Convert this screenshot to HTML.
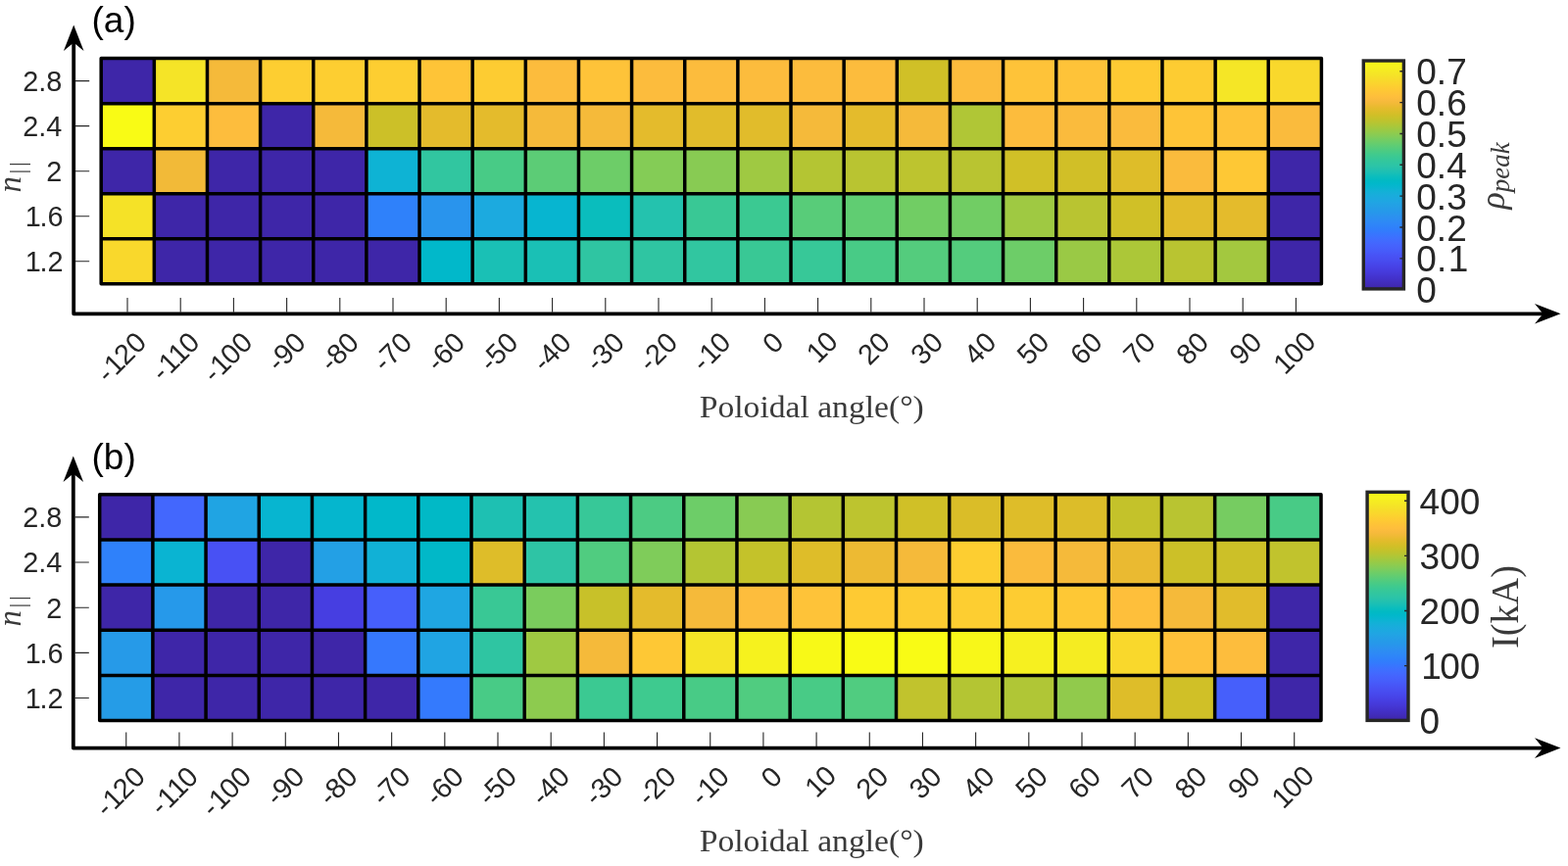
<!DOCTYPE html>
<html lang="en">
<head>
<meta charset="utf-8">
<style>
html,body{margin:0;padding:0;background:#fff;}
body{width:1600px;height:884px;overflow:hidden;}
svg{display:block;}
</style>
</head>
<body>
<svg width="1600" height="884" viewBox="0 0 1600 884">
<rect width="1600" height="884" fill="#fff"/>
<g id="panel-a">
<g shape-rendering="geometricPrecision">
<rect x="103.20" y="59.60" width="54.44" height="46.34" fill="#3e26a8"/>
<rect x="157.34" y="59.60" width="54.44" height="46.34" fill="#f5e427"/>
<rect x="211.48" y="59.60" width="54.44" height="46.34" fill="#f5ba3a"/>
<rect x="265.62" y="59.60" width="54.44" height="46.34" fill="#fdce31"/>
<rect x="319.76" y="59.60" width="54.44" height="46.34" fill="#fdce31"/>
<rect x="373.90" y="59.60" width="54.44" height="46.34" fill="#fdce31"/>
<rect x="428.03" y="59.60" width="54.44" height="46.34" fill="#fec437"/>
<rect x="482.17" y="59.60" width="54.44" height="46.34" fill="#fdcc32"/>
<rect x="536.31" y="59.60" width="54.44" height="46.34" fill="#fcbc3d"/>
<rect x="590.45" y="59.60" width="54.44" height="46.34" fill="#fec339"/>
<rect x="644.59" y="59.60" width="54.44" height="46.34" fill="#fcbc3d"/>
<rect x="698.73" y="59.60" width="54.44" height="46.34" fill="#fcbc3d"/>
<rect x="752.87" y="59.60" width="54.44" height="46.34" fill="#fcbc3d"/>
<rect x="807.01" y="59.60" width="54.44" height="46.34" fill="#fcbc3d"/>
<rect x="861.15" y="59.60" width="54.44" height="46.34" fill="#fcbc3d"/>
<rect x="915.29" y="59.60" width="54.44" height="46.34" fill="#d0c027"/>
<rect x="969.43" y="59.60" width="54.44" height="46.34" fill="#fcbc3d"/>
<rect x="1023.57" y="59.60" width="54.44" height="46.34" fill="#fec339"/>
<rect x="1077.70" y="59.60" width="54.44" height="46.34" fill="#fec339"/>
<rect x="1131.84" y="59.60" width="54.44" height="46.34" fill="#feca33"/>
<rect x="1185.98" y="59.60" width="54.44" height="46.34" fill="#fdcc32"/>
<rect x="1240.12" y="59.60" width="54.44" height="46.34" fill="#f5e626"/>
<rect x="1294.26" y="59.60" width="54.44" height="46.34" fill="#f9d82c"/>
<rect x="103.20" y="105.64" width="54.44" height="46.34" fill="#f9fb15"/>
<rect x="157.34" y="105.64" width="54.44" height="46.34" fill="#fdce31"/>
<rect x="211.48" y="105.64" width="54.44" height="46.34" fill="#fdbd3d"/>
<rect x="265.62" y="105.64" width="54.44" height="46.34" fill="#3e26a8"/>
<rect x="319.76" y="105.64" width="54.44" height="46.34" fill="#f5ba3a"/>
<rect x="373.90" y="105.64" width="54.44" height="46.34" fill="#ccc028"/>
<rect x="428.03" y="105.64" width="54.44" height="46.34" fill="#e4bb2c"/>
<rect x="482.17" y="105.64" width="54.44" height="46.34" fill="#e4bb2c"/>
<rect x="536.31" y="105.64" width="54.44" height="46.34" fill="#f5ba3a"/>
<rect x="590.45" y="105.64" width="54.44" height="46.34" fill="#f5ba3a"/>
<rect x="644.59" y="105.64" width="54.44" height="46.34" fill="#e4bb2c"/>
<rect x="698.73" y="105.64" width="54.44" height="46.34" fill="#e1bc2b"/>
<rect x="752.87" y="105.64" width="54.44" height="46.34" fill="#e1bc2b"/>
<rect x="807.01" y="105.64" width="54.44" height="46.34" fill="#f5ba3a"/>
<rect x="861.15" y="105.64" width="54.44" height="46.34" fill="#e4bb2c"/>
<rect x="915.29" y="105.64" width="54.44" height="46.34" fill="#f5ba3a"/>
<rect x="969.43" y="105.64" width="54.44" height="46.34" fill="#b0c636"/>
<rect x="1023.57" y="105.64" width="54.44" height="46.34" fill="#fcbc3d"/>
<rect x="1077.70" y="105.64" width="54.44" height="46.34" fill="#fabb3d"/>
<rect x="1131.84" y="105.64" width="54.44" height="46.34" fill="#fabb3d"/>
<rect x="1185.98" y="105.64" width="54.44" height="46.34" fill="#fec437"/>
<rect x="1240.12" y="105.64" width="54.44" height="46.34" fill="#fec339"/>
<rect x="1294.26" y="105.64" width="54.44" height="46.34" fill="#fabb3d"/>
<rect x="103.20" y="151.68" width="54.44" height="46.34" fill="#3e26a8"/>
<rect x="157.34" y="151.68" width="54.44" height="46.34" fill="#f2ba38"/>
<rect x="211.48" y="151.68" width="54.44" height="46.34" fill="#3e26a8"/>
<rect x="265.62" y="151.68" width="54.44" height="46.34" fill="#3e26a8"/>
<rect x="319.76" y="151.68" width="54.44" height="46.34" fill="#3e26a8"/>
<rect x="373.90" y="151.68" width="54.44" height="46.34" fill="#0eb3d4"/>
<rect x="428.03" y="151.68" width="54.44" height="46.34" fill="#31c6a0"/>
<rect x="482.17" y="151.68" width="54.44" height="46.34" fill="#48cb86"/>
<rect x="536.31" y="151.68" width="54.44" height="46.34" fill="#5ccc76"/>
<rect x="590.45" y="151.68" width="54.44" height="46.34" fill="#6dcd68"/>
<rect x="644.59" y="151.68" width="54.44" height="46.34" fill="#84cc56"/>
<rect x="698.73" y="151.68" width="54.44" height="46.34" fill="#88cb53"/>
<rect x="752.87" y="151.68" width="54.44" height="46.34" fill="#9fc942"/>
<rect x="807.01" y="151.68" width="54.44" height="46.34" fill="#b4c533"/>
<rect x="861.15" y="151.68" width="54.44" height="46.34" fill="#b9c431"/>
<rect x="915.29" y="151.68" width="54.44" height="46.34" fill="#bdc42f"/>
<rect x="969.43" y="151.68" width="54.44" height="46.34" fill="#b9c431"/>
<rect x="1023.57" y="151.68" width="54.44" height="46.34" fill="#d0c027"/>
<rect x="1077.70" y="151.68" width="54.44" height="46.34" fill="#d1bf27"/>
<rect x="1131.84" y="151.68" width="54.44" height="46.34" fill="#debd29"/>
<rect x="1185.98" y="151.68" width="54.44" height="46.34" fill="#fabb3d"/>
<rect x="1240.12" y="151.68" width="54.44" height="46.34" fill="#fec835"/>
<rect x="1294.26" y="151.68" width="54.44" height="46.34" fill="#3e26a8"/>
<rect x="103.20" y="197.72" width="54.44" height="46.34" fill="#f5e227"/>
<rect x="157.34" y="197.72" width="54.44" height="46.34" fill="#3e26a8"/>
<rect x="211.48" y="197.72" width="54.44" height="46.34" fill="#3e26a8"/>
<rect x="265.62" y="197.72" width="54.44" height="46.34" fill="#3e26a8"/>
<rect x="319.76" y="197.72" width="54.44" height="46.34" fill="#3e26a8"/>
<rect x="373.90" y="197.72" width="54.44" height="46.34" fill="#2f81fa"/>
<rect x="428.03" y="197.72" width="54.44" height="46.34" fill="#2994ed"/>
<rect x="482.17" y="197.72" width="54.44" height="46.34" fill="#1caadf"/>
<rect x="536.31" y="197.72" width="54.44" height="46.34" fill="#07b5d0"/>
<rect x="590.45" y="197.72" width="54.44" height="46.34" fill="#0abdbd"/>
<rect x="644.59" y="197.72" width="54.44" height="46.34" fill="#24c2ae"/>
<rect x="698.73" y="197.72" width="54.44" height="46.34" fill="#39c895"/>
<rect x="752.87" y="197.72" width="54.44" height="46.34" fill="#3bc992"/>
<rect x="807.01" y="197.72" width="54.44" height="46.34" fill="#58cc79"/>
<rect x="861.15" y="197.72" width="54.44" height="46.34" fill="#60cd72"/>
<rect x="915.29" y="197.72" width="54.44" height="46.34" fill="#71cd64"/>
<rect x="969.43" y="197.72" width="54.44" height="46.34" fill="#71cd64"/>
<rect x="1023.57" y="197.72" width="54.44" height="46.34" fill="#9fc942"/>
<rect x="1077.70" y="197.72" width="54.44" height="46.34" fill="#b9c431"/>
<rect x="1131.84" y="197.72" width="54.44" height="46.34" fill="#d0c027"/>
<rect x="1185.98" y="197.72" width="54.44" height="46.34" fill="#e1bc2b"/>
<rect x="1240.12" y="197.72" width="54.44" height="46.34" fill="#e4bb2c"/>
<rect x="1294.26" y="197.72" width="54.44" height="46.34" fill="#3e26a8"/>
<rect x="103.20" y="243.76" width="54.44" height="46.34" fill="#f9d82c"/>
<rect x="157.34" y="243.76" width="54.44" height="46.34" fill="#3e26a8"/>
<rect x="211.48" y="243.76" width="54.44" height="46.34" fill="#3e26a8"/>
<rect x="265.62" y="243.76" width="54.44" height="46.34" fill="#3e26a8"/>
<rect x="319.76" y="243.76" width="54.44" height="46.34" fill="#3e26a8"/>
<rect x="373.90" y="243.76" width="54.44" height="46.34" fill="#3e26a8"/>
<rect x="428.03" y="243.76" width="54.44" height="46.34" fill="#01b8ca"/>
<rect x="482.17" y="243.76" width="54.44" height="46.34" fill="#1ac0b5"/>
<rect x="536.31" y="243.76" width="54.44" height="46.34" fill="#1ac0b5"/>
<rect x="590.45" y="243.76" width="54.44" height="46.34" fill="#2fc5a2"/>
<rect x="644.59" y="243.76" width="54.44" height="46.34" fill="#2fc5a2"/>
<rect x="698.73" y="243.76" width="54.44" height="46.34" fill="#31c6a0"/>
<rect x="752.87" y="243.76" width="54.44" height="46.34" fill="#39c895"/>
<rect x="807.01" y="243.76" width="54.44" height="46.34" fill="#37c898"/>
<rect x="861.15" y="243.76" width="54.44" height="46.34" fill="#48cb86"/>
<rect x="915.29" y="243.76" width="54.44" height="46.34" fill="#54cc7d"/>
<rect x="969.43" y="243.76" width="54.44" height="46.34" fill="#54cc7d"/>
<rect x="1023.57" y="243.76" width="54.44" height="46.34" fill="#6dcd68"/>
<rect x="1077.70" y="243.76" width="54.44" height="46.34" fill="#9ac945"/>
<rect x="1131.84" y="243.76" width="54.44" height="46.34" fill="#acc738"/>
<rect x="1185.98" y="243.76" width="54.44" height="46.34" fill="#b9c431"/>
<rect x="1240.12" y="243.76" width="54.44" height="46.34" fill="#a3c83f"/>
<rect x="1294.26" y="243.76" width="54.44" height="46.34" fill="#3e26a8"/>
</g>
<path d="M157.34 59.60V289.80M211.48 59.60V289.80M265.62 59.60V289.80M319.76 59.60V289.80M373.90 59.60V289.80M428.03 59.60V289.80M482.17 59.60V289.80M536.31 59.60V289.80M590.45 59.60V289.80M644.59 59.60V289.80M698.73 59.60V289.80M752.87 59.60V289.80M807.01 59.60V289.80M861.15 59.60V289.80M915.29 59.60V289.80M969.43 59.60V289.80M1023.57 59.60V289.80M1077.70 59.60V289.80M1131.84 59.60V289.80M1185.98 59.60V289.80M1240.12 59.60V289.80M1294.26 59.60V289.80M103.20 105.64H1348.40M103.20 151.68H1348.40M103.20 197.72H1348.40M103.20 243.76H1348.40" fill="none" stroke="#000" stroke-width="3.50"/>
<rect x="103.20" y="59.60" width="1245.20" height="230.20" fill="none" stroke="#000" stroke-width="3.50" stroke-linejoin="round"/>
<path d="M75.20 37.60V320.30H1580.50" fill="none" stroke="#000" stroke-width="3.8" stroke-linejoin="round"/>
<path d="M75.20 25.60 L85.50 52.10 L75.20 43.60 L64.90 52.10 Z" fill="#000"/>
<path d="M1592.50 320.30 L1566.00 310.00 L1574.50 320.30 L1566.00 330.60 Z" fill="#000"/>
<path d="M76.70 82.62H91.20M76.70 128.66H91.20M76.70 174.70H91.20M76.70 220.74H91.20M76.70 266.78H91.20M130.00 304.00V318.80M184.20 304.00V318.80M238.40 304.00V318.80M292.60 304.00V318.80M346.80 304.00V318.80M401.00 304.00V318.80M455.20 304.00V318.80M509.40 304.00V318.80M563.60 304.00V318.80M617.80 304.00V318.80M672.00 304.00V318.80M726.20 304.00V318.80M780.40 304.00V318.80M834.60 304.00V318.80M888.80 304.00V318.80M943.00 304.00V318.80M997.20 304.00V318.80M1051.40 304.00V318.80M1105.60 304.00V318.80M1159.80 304.00V318.80M1214.00 304.00V318.80M1268.20 304.00V318.80M1322.40 304.00V318.80" fill="none" stroke="#262626" stroke-width="1.1"/>
<g font-family='"Liberation Sans", sans-serif' font-size="28.8" fill="#262626" text-anchor="end">
<text x="63.3" y="93.02">2.8</text>
<text x="63.3" y="139.06">2.4</text>
<text x="63.3" y="185.10">2</text>
<text x="63.3" y="231.14" dx="1.3 -1.3 0">1.6</text>
<text x="63.3" y="277.18" dx="1.3 -1.3 0">1.2</text>
</g>
<g font-family='"Liberation Sans", sans-serif' font-size="28.8" fill="#262626" text-anchor="end">
<text transform="translate(151.00 351.30) rotate(-45)" dx="0 1.3 -1.3 0">-120</text>
<text transform="translate(205.20 351.30) rotate(-45)" dx="0 1.3 0 -1.3">-110</text>
<text transform="translate(259.40 351.30) rotate(-45)" dx="0 1.3 -1.3 0">-100</text>
<text transform="translate(313.60 351.30) rotate(-45)">-90</text>
<text transform="translate(367.80 351.30) rotate(-45)">-80</text>
<text transform="translate(422.00 351.30) rotate(-45)">-70</text>
<text transform="translate(476.20 351.30) rotate(-45)">-60</text>
<text transform="translate(530.40 351.30) rotate(-45)">-50</text>
<text transform="translate(584.60 351.30) rotate(-45)">-40</text>
<text transform="translate(638.80 351.30) rotate(-45)">-30</text>
<text transform="translate(693.00 351.30) rotate(-45)">-20</text>
<text transform="translate(747.20 351.30) rotate(-45)" dx="0 1.3 -1.3">-10</text>
<text transform="translate(801.40 351.30) rotate(-45)">0</text>
<text transform="translate(855.60 351.30) rotate(-45)" dx="1.3 -1.3">10</text>
<text transform="translate(909.80 351.30) rotate(-45)">20</text>
<text transform="translate(964.00 351.30) rotate(-45)">30</text>
<text transform="translate(1018.20 351.30) rotate(-45)">40</text>
<text transform="translate(1072.40 351.30) rotate(-45)">50</text>
<text transform="translate(1126.60 351.30) rotate(-45)">60</text>
<text transform="translate(1180.80 351.30) rotate(-45)">70</text>
<text transform="translate(1235.00 351.30) rotate(-45)">80</text>
<text transform="translate(1289.20 351.30) rotate(-45)">90</text>
<text transform="translate(1343.40 351.30) rotate(-45)" dx="1.3 -1.3 0">100</text>
</g>
<text x="828.3" y="426.40" font-family='"Liberation Serif", serif' font-size="30.8" fill="#3a3a3a" text-anchor="middle" textLength="229" lengthAdjust="spacingAndGlyphs">Poloidal angle(°)</text>
<text transform="translate(20.5 196.50) rotate(-90)" font-family='"Liberation Serif", serif' font-size="33" font-style="italic" fill="#3a3a3a" text-anchor="start">n<tspan font-size="24" font-style="normal" dy="5.8" dx="2.6" letter-spacing="2.5">||</tspan></text>
<text x="93.50" y="32.60" font-family='"Liberation Sans", sans-serif' font-size="37" fill="#000">(a)</text>
<defs><linearGradient id="ga" x1="0" y1="0" x2="0" y2="1"><stop offset="0.0000" stop-color="#f9fb15"/><stop offset="0.0159" stop-color="#f7f51b"/><stop offset="0.0317" stop-color="#f6ef20"/><stop offset="0.0476" stop-color="#f5e924"/><stop offset="0.0635" stop-color="#f5e327"/><stop offset="0.0794" stop-color="#f7dc2a"/><stop offset="0.0952" stop-color="#fad62d"/><stop offset="0.1111" stop-color="#fccf30"/><stop offset="0.1270" stop-color="#fec934"/><stop offset="0.1429" stop-color="#fec338"/><stop offset="0.1587" stop-color="#febe3c"/><stop offset="0.1746" stop-color="#f8ba3d"/><stop offset="0.1905" stop-color="#f0ba36"/><stop offset="0.2063" stop-color="#e6bb2d"/><stop offset="0.2222" stop-color="#dcbd29"/><stop offset="0.2381" stop-color="#d1bf27"/><stop offset="0.2540" stop-color="#c5c22a"/><stop offset="0.2698" stop-color="#b9c431"/><stop offset="0.2857" stop-color="#abc739"/><stop offset="0.3016" stop-color="#9dc943"/><stop offset="0.3175" stop-color="#8fcb4e"/><stop offset="0.3333" stop-color="#81cc59"/><stop offset="0.3492" stop-color="#72cd64"/><stop offset="0.3651" stop-color="#64cd6f"/><stop offset="0.3810" stop-color="#57cc7a"/><stop offset="0.3968" stop-color="#4acb84"/><stop offset="0.4127" stop-color="#3fca8e"/><stop offset="0.4286" stop-color="#37c897"/><stop offset="0.4444" stop-color="#31c69f"/><stop offset="0.4603" stop-color="#2cc4a7"/><stop offset="0.4762" stop-color="#24c1ae"/><stop offset="0.4921" stop-color="#19bfb6"/><stop offset="0.5079" stop-color="#0bbdbd"/><stop offset="0.5238" stop-color="#02bac3"/><stop offset="0.5397" stop-color="#01b8ca"/><stop offset="0.5556" stop-color="#08b5d0"/><stop offset="0.5714" stop-color="#12b1d6"/><stop offset="0.5873" stop-color="#18addb"/><stop offset="0.6032" stop-color="#1ca9df"/><stop offset="0.6190" stop-color="#20a5e3"/><stop offset="0.6349" stop-color="#23a0e5"/><stop offset="0.6508" stop-color="#259be8"/><stop offset="0.6667" stop-color="#2797eb"/><stop offset="0.6825" stop-color="#2b91ef"/><stop offset="0.6984" stop-color="#2d8cf3"/><stop offset="0.7143" stop-color="#2e87f7"/><stop offset="0.7302" stop-color="#2f81fa"/><stop offset="0.7460" stop-color="#327cfc"/><stop offset="0.7619" stop-color="#3875fe"/><stop offset="0.7778" stop-color="#3e6fff"/><stop offset="0.7937" stop-color="#4269fe"/><stop offset="0.8095" stop-color="#4563fd"/><stop offset="0.8254" stop-color="#465efb"/><stop offset="0.8413" stop-color="#4758f8"/><stop offset="0.8571" stop-color="#4852f4"/><stop offset="0.8730" stop-color="#484df0"/><stop offset="0.8889" stop-color="#4747eb"/><stop offset="0.9048" stop-color="#4741e5"/><stop offset="0.9206" stop-color="#463cde"/><stop offset="0.9365" stop-color="#4537d5"/><stop offset="0.9524" stop-color="#4332cb"/><stop offset="0.9683" stop-color="#422ec0"/><stop offset="0.9841" stop-color="#402ab4"/><stop offset="1.0000" stop-color="#3e26a8"/></linearGradient></defs>
<rect x="1391.30" y="62.00" width="41.10" height="232.90" fill="url(#ga)" stroke="#262626" stroke-width="3.40"/>
<g font-family='"Liberation Sans", sans-serif' font-size="37.0" fill="#262626">
<text x="1445.30" y="86.35">0.7</text>
<text x="1445.30" y="118.20">0.6</text>
<text x="1445.30" y="150.05">0.5</text>
<text x="1445.30" y="181.90">0.4</text>
<text x="1445.30" y="213.75">0.3</text>
<text x="1445.30" y="245.60">0.2</text>
<text x="1445.30" y="277.45" dx="0 0 1.6">0.1</text>
<text x="1445.30" y="309.30">0</text>
</g>
<path d="M1428.40 72.75H1431.40M1428.40 104.60H1431.40M1428.40 136.45H1431.40M1428.40 168.30H1431.40M1428.40 200.15H1431.40M1428.40 232.00H1431.40M1428.40 263.85H1431.40" fill="none" stroke="#262626" stroke-width="1.4"/>
<text transform="translate(1535 213.5) rotate(-90)" font-family='"Liberation Serif", serif' font-size="36" font-style="italic" fill="#3a3a3a">ρ<tspan font-size="27" dy="5.2" dx="0">peak</tspan></text>
</g>
<g id="panel-b">
<g shape-rendering="geometricPrecision">
<rect x="101.70" y="504.80" width="54.49" height="46.46" fill="#3e26a8"/>
<rect x="155.89" y="504.80" width="54.49" height="46.46" fill="#4367fd"/>
<rect x="210.07" y="504.80" width="54.49" height="46.46" fill="#20a4e3"/>
<rect x="264.26" y="504.80" width="54.49" height="46.46" fill="#07b5d0"/>
<rect x="318.45" y="504.80" width="54.49" height="46.46" fill="#05b6ce"/>
<rect x="372.63" y="504.80" width="54.49" height="46.46" fill="#01b8ca"/>
<rect x="426.82" y="504.80" width="54.49" height="46.46" fill="#01b9c6"/>
<rect x="481.01" y="504.80" width="54.49" height="46.46" fill="#1ec0b2"/>
<rect x="535.20" y="504.80" width="54.49" height="46.46" fill="#24c2ae"/>
<rect x="589.38" y="504.80" width="54.49" height="46.46" fill="#37c898"/>
<rect x="643.57" y="504.80" width="54.49" height="46.46" fill="#4ccb83"/>
<rect x="697.76" y="504.80" width="54.49" height="46.46" fill="#6dcd68"/>
<rect x="751.94" y="504.80" width="54.49" height="46.46" fill="#88cb53"/>
<rect x="806.13" y="504.80" width="54.49" height="46.46" fill="#b4c533"/>
<rect x="860.32" y="504.80" width="54.49" height="46.46" fill="#bdc42f"/>
<rect x="914.50" y="504.80" width="54.49" height="46.46" fill="#d0c027"/>
<rect x="968.69" y="504.80" width="54.49" height="46.46" fill="#dabd28"/>
<rect x="1022.88" y="504.80" width="54.49" height="46.46" fill="#debd29"/>
<rect x="1077.07" y="504.80" width="54.49" height="46.46" fill="#dcbd29"/>
<rect x="1131.25" y="504.80" width="54.49" height="46.46" fill="#c4c22a"/>
<rect x="1185.44" y="504.80" width="54.49" height="46.46" fill="#b9c431"/>
<rect x="1239.63" y="504.80" width="54.49" height="46.46" fill="#76cc61"/>
<rect x="1293.81" y="504.80" width="54.49" height="46.46" fill="#48cb86"/>
<rect x="101.70" y="550.96" width="54.49" height="46.46" fill="#2f81fa"/>
<rect x="155.89" y="550.96" width="54.49" height="46.46" fill="#0ab4d2"/>
<rect x="210.07" y="550.96" width="54.49" height="46.46" fill="#4851f4"/>
<rect x="264.26" y="550.96" width="54.49" height="46.46" fill="#3e26a8"/>
<rect x="318.45" y="550.96" width="54.49" height="46.46" fill="#23a0e5"/>
<rect x="372.63" y="550.96" width="54.49" height="46.46" fill="#11b1d6"/>
<rect x="426.82" y="550.96" width="54.49" height="46.46" fill="#01b8c8"/>
<rect x="481.01" y="550.96" width="54.49" height="46.46" fill="#debd29"/>
<rect x="535.20" y="550.96" width="54.49" height="46.46" fill="#2ec4a5"/>
<rect x="589.38" y="550.96" width="54.49" height="46.46" fill="#50cc80"/>
<rect x="643.57" y="550.96" width="54.49" height="46.46" fill="#7fcc5a"/>
<rect x="697.76" y="550.96" width="54.49" height="46.46" fill="#b4c533"/>
<rect x="751.94" y="550.96" width="54.49" height="46.46" fill="#c4c22a"/>
<rect x="806.13" y="550.96" width="54.49" height="46.46" fill="#debd29"/>
<rect x="860.32" y="550.96" width="54.49" height="46.46" fill="#edba33"/>
<rect x="914.50" y="550.96" width="54.49" height="46.46" fill="#f5ba3a"/>
<rect x="968.69" y="550.96" width="54.49" height="46.46" fill="#fdce31"/>
<rect x="1022.88" y="550.96" width="54.49" height="46.46" fill="#fabb3d"/>
<rect x="1077.07" y="550.96" width="54.49" height="46.46" fill="#f5ba3a"/>
<rect x="1131.25" y="550.96" width="54.49" height="46.46" fill="#eaba31"/>
<rect x="1185.44" y="550.96" width="54.49" height="46.46" fill="#ccc028"/>
<rect x="1239.63" y="550.96" width="54.49" height="46.46" fill="#ccc028"/>
<rect x="1293.81" y="550.96" width="54.49" height="46.46" fill="#c1c32d"/>
<rect x="101.70" y="597.12" width="54.49" height="46.46" fill="#3e26a8"/>
<rect x="155.89" y="597.12" width="54.49" height="46.46" fill="#2699ea"/>
<rect x="210.07" y="597.12" width="54.49" height="46.46" fill="#3e26a8"/>
<rect x="264.26" y="597.12" width="54.49" height="46.46" fill="#3e26a8"/>
<rect x="318.45" y="597.12" width="54.49" height="46.46" fill="#463ee1"/>
<rect x="372.63" y="597.12" width="54.49" height="46.46" fill="#465ffb"/>
<rect x="426.82" y="597.12" width="54.49" height="46.46" fill="#1fa6e2"/>
<rect x="481.01" y="597.12" width="54.49" height="46.46" fill="#39c895"/>
<rect x="535.20" y="597.12" width="54.49" height="46.46" fill="#7acc5d"/>
<rect x="589.38" y="597.12" width="54.49" height="46.46" fill="#c8c129"/>
<rect x="643.57" y="597.12" width="54.49" height="46.46" fill="#e4bb2c"/>
<rect x="697.76" y="597.12" width="54.49" height="46.46" fill="#f5ba3a"/>
<rect x="751.94" y="597.12" width="54.49" height="46.46" fill="#fdbd3d"/>
<rect x="806.13" y="597.12" width="54.49" height="46.46" fill="#fec339"/>
<rect x="860.32" y="597.12" width="54.49" height="46.46" fill="#feca33"/>
<rect x="914.50" y="597.12" width="54.49" height="46.46" fill="#fdcc32"/>
<rect x="968.69" y="597.12" width="54.49" height="46.46" fill="#fdce31"/>
<rect x="1022.88" y="597.12" width="54.49" height="46.46" fill="#fdcc32"/>
<rect x="1077.07" y="597.12" width="54.49" height="46.46" fill="#fec835"/>
<rect x="1131.25" y="597.12" width="54.49" height="46.46" fill="#febf3b"/>
<rect x="1185.44" y="597.12" width="54.49" height="46.46" fill="#f5ba3a"/>
<rect x="1239.63" y="597.12" width="54.49" height="46.46" fill="#e1bc2b"/>
<rect x="1293.81" y="597.12" width="54.49" height="46.46" fill="#3e26a8"/>
<rect x="101.70" y="643.28" width="54.49" height="46.46" fill="#269ae8"/>
<rect x="155.89" y="643.28" width="54.49" height="46.46" fill="#3e26a8"/>
<rect x="210.07" y="643.28" width="54.49" height="46.46" fill="#3e26a8"/>
<rect x="264.26" y="643.28" width="54.49" height="46.46" fill="#3e26a8"/>
<rect x="318.45" y="643.28" width="54.49" height="46.46" fill="#3e26a8"/>
<rect x="372.63" y="643.28" width="54.49" height="46.46" fill="#3678fd"/>
<rect x="426.82" y="643.28" width="54.49" height="46.46" fill="#20a4e3"/>
<rect x="481.01" y="643.28" width="54.49" height="46.46" fill="#2fc5a2"/>
<rect x="535.20" y="643.28" width="54.49" height="46.46" fill="#9fc942"/>
<rect x="589.38" y="643.28" width="54.49" height="46.46" fill="#f5ba3a"/>
<rect x="643.57" y="643.28" width="54.49" height="46.46" fill="#fec835"/>
<rect x="697.76" y="643.28" width="54.49" height="46.46" fill="#f5e427"/>
<rect x="751.94" y="643.28" width="54.49" height="46.46" fill="#f6f21e"/>
<rect x="806.13" y="643.28" width="54.49" height="46.46" fill="#f8f917"/>
<rect x="860.32" y="643.28" width="54.49" height="46.46" fill="#f9fb15"/>
<rect x="914.50" y="643.28" width="54.49" height="46.46" fill="#f9fb15"/>
<rect x="968.69" y="643.28" width="54.49" height="46.46" fill="#f8f719"/>
<rect x="1022.88" y="643.28" width="54.49" height="46.46" fill="#f6f020"/>
<rect x="1077.07" y="643.28" width="54.49" height="46.46" fill="#f5ec22"/>
<rect x="1131.25" y="643.28" width="54.49" height="46.46" fill="#f9d82c"/>
<rect x="1185.44" y="643.28" width="54.49" height="46.46" fill="#fec13a"/>
<rect x="1239.63" y="643.28" width="54.49" height="46.46" fill="#fdbd3d"/>
<rect x="1293.81" y="643.28" width="54.49" height="46.46" fill="#3e26a8"/>
<rect x="101.70" y="689.44" width="54.49" height="46.46" fill="#259ce7"/>
<rect x="155.89" y="689.44" width="54.49" height="46.46" fill="#3e26a8"/>
<rect x="210.07" y="689.44" width="54.49" height="46.46" fill="#3e26a8"/>
<rect x="264.26" y="689.44" width="54.49" height="46.46" fill="#3e26a8"/>
<rect x="318.45" y="689.44" width="54.49" height="46.46" fill="#3e26a8"/>
<rect x="372.63" y="689.44" width="54.49" height="46.46" fill="#3e26a8"/>
<rect x="426.82" y="689.44" width="54.49" height="46.46" fill="#347afd"/>
<rect x="481.01" y="689.44" width="54.49" height="46.46" fill="#48cb86"/>
<rect x="535.20" y="689.44" width="54.49" height="46.46" fill="#8dcb4f"/>
<rect x="589.38" y="689.44" width="54.49" height="46.46" fill="#3bc992"/>
<rect x="643.57" y="689.44" width="54.49" height="46.46" fill="#3eca8f"/>
<rect x="697.76" y="689.44" width="54.49" height="46.46" fill="#48cb86"/>
<rect x="751.94" y="689.44" width="54.49" height="46.46" fill="#50cc80"/>
<rect x="806.13" y="689.44" width="54.49" height="46.46" fill="#48cb86"/>
<rect x="860.32" y="689.44" width="54.49" height="46.46" fill="#50cc80"/>
<rect x="914.50" y="689.44" width="54.49" height="46.46" fill="#c1c32d"/>
<rect x="968.69" y="689.44" width="54.49" height="46.46" fill="#b4c533"/>
<rect x="1022.88" y="689.44" width="54.49" height="46.46" fill="#b0c636"/>
<rect x="1077.07" y="689.44" width="54.49" height="46.46" fill="#91ca4c"/>
<rect x="1131.25" y="689.44" width="54.49" height="46.46" fill="#debd29"/>
<rect x="1185.44" y="689.44" width="54.49" height="46.46" fill="#d0c027"/>
<rect x="1239.63" y="689.44" width="54.49" height="46.46" fill="#465ffb"/>
<rect x="1293.81" y="689.44" width="54.49" height="46.46" fill="#3e26a8"/>
</g>
<path d="M155.89 504.80V735.60M210.07 504.80V735.60M264.26 504.80V735.60M318.45 504.80V735.60M372.63 504.80V735.60M426.82 504.80V735.60M481.01 504.80V735.60M535.20 504.80V735.60M589.38 504.80V735.60M643.57 504.80V735.60M697.76 504.80V735.60M751.94 504.80V735.60M806.13 504.80V735.60M860.32 504.80V735.60M914.50 504.80V735.60M968.69 504.80V735.60M1022.88 504.80V735.60M1077.07 504.80V735.60M1131.25 504.80V735.60M1185.44 504.80V735.60M1239.63 504.80V735.60M1293.81 504.80V735.60M101.70 550.96H1348.00M101.70 597.12H1348.00M101.70 643.28H1348.00M101.70 689.44H1348.00" fill="none" stroke="#000" stroke-width="3.50"/>
<rect x="101.70" y="504.80" width="1246.30" height="230.80" fill="none" stroke="#000" stroke-width="3.50" stroke-linejoin="round"/>
<path d="M74.80 477.60V763.60H1580.50" fill="none" stroke="#000" stroke-width="3.8" stroke-linejoin="round"/>
<path d="M74.80 465.60 L85.10 492.10 L74.80 483.60 L64.50 492.10 Z" fill="#000"/>
<path d="M1592.50 763.60 L1566.00 753.30 L1574.50 763.60 L1566.00 773.90 Z" fill="#000"/>
<path d="M76.30 527.88H90.80M76.30 574.04H90.80M76.30 620.20H90.80M76.30 666.36H90.80M76.30 712.52H90.80M128.75 747.50V762.10M182.93 747.50V762.10M237.11 747.50V762.10M291.29 747.50V762.10M345.47 747.50V762.10M399.65 747.50V762.10M453.83 747.50V762.10M508.01 747.50V762.10M562.19 747.50V762.10M616.37 747.50V762.10M670.55 747.50V762.10M724.73 747.50V762.10M778.91 747.50V762.10M833.09 747.50V762.10M887.27 747.50V762.10M941.45 747.50V762.10M995.63 747.50V762.10M1049.81 747.50V762.10M1103.99 747.50V762.10M1158.17 747.50V762.10M1212.35 747.50V762.10M1266.53 747.50V762.10M1320.71 747.50V762.10" fill="none" stroke="#262626" stroke-width="1.1"/>
<g font-family='"Liberation Sans", sans-serif' font-size="28.8" fill="#262626" text-anchor="end">
<text x="63.3" y="538.28">2.8</text>
<text x="63.3" y="584.44">2.4</text>
<text x="63.3" y="630.60">2</text>
<text x="63.3" y="676.76" dx="1.3 -1.3 0">1.6</text>
<text x="63.3" y="722.92" dx="1.3 -1.3 0">1.2</text>
</g>
<g font-family='"Liberation Sans", sans-serif' font-size="28.8" fill="#262626" text-anchor="end">
<text transform="translate(149.75 794.60) rotate(-45)" dx="0 1.3 -1.3 0">-120</text>
<text transform="translate(203.93 794.60) rotate(-45)" dx="0 1.3 0 -1.3">-110</text>
<text transform="translate(258.11 794.60) rotate(-45)" dx="0 1.3 -1.3 0">-100</text>
<text transform="translate(312.29 794.60) rotate(-45)">-90</text>
<text transform="translate(366.47 794.60) rotate(-45)">-80</text>
<text transform="translate(420.65 794.60) rotate(-45)">-70</text>
<text transform="translate(474.83 794.60) rotate(-45)">-60</text>
<text transform="translate(529.01 794.60) rotate(-45)">-50</text>
<text transform="translate(583.19 794.60) rotate(-45)">-40</text>
<text transform="translate(637.37 794.60) rotate(-45)">-30</text>
<text transform="translate(691.55 794.60) rotate(-45)">-20</text>
<text transform="translate(745.73 794.60) rotate(-45)" dx="0 1.3 -1.3">-10</text>
<text transform="translate(799.91 794.60) rotate(-45)">0</text>
<text transform="translate(854.09 794.60) rotate(-45)" dx="1.3 -1.3">10</text>
<text transform="translate(908.27 794.60) rotate(-45)">20</text>
<text transform="translate(962.45 794.60) rotate(-45)">30</text>
<text transform="translate(1016.63 794.60) rotate(-45)">40</text>
<text transform="translate(1070.81 794.60) rotate(-45)">50</text>
<text transform="translate(1124.99 794.60) rotate(-45)">60</text>
<text transform="translate(1179.17 794.60) rotate(-45)">70</text>
<text transform="translate(1233.35 794.60) rotate(-45)">80</text>
<text transform="translate(1287.53 794.60) rotate(-45)">90</text>
<text transform="translate(1341.71 794.60) rotate(-45)" dx="1.3 -1.3 0">100</text>
</g>
<text x="828.3" y="869.40" font-family='"Liberation Serif", serif' font-size="30.8" fill="#3a3a3a" text-anchor="middle" textLength="229" lengthAdjust="spacingAndGlyphs">Poloidal angle(°)</text>
<text transform="translate(20.5 639.50) rotate(-90)" font-family='"Liberation Serif", serif' font-size="33" font-style="italic" fill="#3a3a3a" text-anchor="start">n<tspan font-size="24" font-style="normal" dy="5.8" dx="2.6" letter-spacing="2.5">||</tspan></text>
<text x="93.50" y="478.80" font-family='"Liberation Sans", sans-serif' font-size="37" fill="#000">(b)</text>
<defs><linearGradient id="gb" x1="0" y1="0" x2="0" y2="1"><stop offset="0.0000" stop-color="#f9fb15"/><stop offset="0.0159" stop-color="#f7f51b"/><stop offset="0.0317" stop-color="#f6ef20"/><stop offset="0.0476" stop-color="#f5e924"/><stop offset="0.0635" stop-color="#f5e327"/><stop offset="0.0794" stop-color="#f7dc2a"/><stop offset="0.0952" stop-color="#fad62d"/><stop offset="0.1111" stop-color="#fccf30"/><stop offset="0.1270" stop-color="#fec934"/><stop offset="0.1429" stop-color="#fec338"/><stop offset="0.1587" stop-color="#febe3c"/><stop offset="0.1746" stop-color="#f8ba3d"/><stop offset="0.1905" stop-color="#f0ba36"/><stop offset="0.2063" stop-color="#e6bb2d"/><stop offset="0.2222" stop-color="#dcbd29"/><stop offset="0.2381" stop-color="#d1bf27"/><stop offset="0.2540" stop-color="#c5c22a"/><stop offset="0.2698" stop-color="#b9c431"/><stop offset="0.2857" stop-color="#abc739"/><stop offset="0.3016" stop-color="#9dc943"/><stop offset="0.3175" stop-color="#8fcb4e"/><stop offset="0.3333" stop-color="#81cc59"/><stop offset="0.3492" stop-color="#72cd64"/><stop offset="0.3651" stop-color="#64cd6f"/><stop offset="0.3810" stop-color="#57cc7a"/><stop offset="0.3968" stop-color="#4acb84"/><stop offset="0.4127" stop-color="#3fca8e"/><stop offset="0.4286" stop-color="#37c897"/><stop offset="0.4444" stop-color="#31c69f"/><stop offset="0.4603" stop-color="#2cc4a7"/><stop offset="0.4762" stop-color="#24c1ae"/><stop offset="0.4921" stop-color="#19bfb6"/><stop offset="0.5079" stop-color="#0bbdbd"/><stop offset="0.5238" stop-color="#02bac3"/><stop offset="0.5397" stop-color="#01b8ca"/><stop offset="0.5556" stop-color="#08b5d0"/><stop offset="0.5714" stop-color="#12b1d6"/><stop offset="0.5873" stop-color="#18addb"/><stop offset="0.6032" stop-color="#1ca9df"/><stop offset="0.6190" stop-color="#20a5e3"/><stop offset="0.6349" stop-color="#23a0e5"/><stop offset="0.6508" stop-color="#259be8"/><stop offset="0.6667" stop-color="#2797eb"/><stop offset="0.6825" stop-color="#2b91ef"/><stop offset="0.6984" stop-color="#2d8cf3"/><stop offset="0.7143" stop-color="#2e87f7"/><stop offset="0.7302" stop-color="#2f81fa"/><stop offset="0.7460" stop-color="#327cfc"/><stop offset="0.7619" stop-color="#3875fe"/><stop offset="0.7778" stop-color="#3e6fff"/><stop offset="0.7937" stop-color="#4269fe"/><stop offset="0.8095" stop-color="#4563fd"/><stop offset="0.8254" stop-color="#465efb"/><stop offset="0.8413" stop-color="#4758f8"/><stop offset="0.8571" stop-color="#4852f4"/><stop offset="0.8730" stop-color="#484df0"/><stop offset="0.8889" stop-color="#4747eb"/><stop offset="0.9048" stop-color="#4741e5"/><stop offset="0.9206" stop-color="#463cde"/><stop offset="0.9365" stop-color="#4537d5"/><stop offset="0.9524" stop-color="#4332cb"/><stop offset="0.9683" stop-color="#422ec0"/><stop offset="0.9841" stop-color="#402ab4"/><stop offset="1.0000" stop-color="#3e26a8"/></linearGradient></defs>
<rect x="1395.10" y="502.30" width="41.90" height="233.10" fill="url(#gb)" stroke="#262626" stroke-width="3.40"/>
<g font-family='"Liberation Sans", sans-serif' font-size="37.0" fill="#262626">
<text x="1448.60" y="524.90">400</text>
<text x="1448.60" y="581.00">300</text>
<text x="1448.60" y="637.10">200</text>
<text x="1448.60" y="693.20" dx="1.6 -1.6 0">100</text>
<text x="1448.60" y="749.30">0</text>
</g>
<path d="M1433.00 511.30H1436.00M1433.00 567.40H1436.00M1433.00 623.50H1436.00M1433.00 679.60H1436.00" fill="none" stroke="#262626" stroke-width="1.4"/>
<text transform="translate(1548.7 662) rotate(-90)" font-family='"Liberation Serif", serif' font-size="39" fill="#3a3a3a" textLength="85" lengthAdjust="spacingAndGlyphs">I(kA)</text>
</g>
</svg>
</body>
</html>
